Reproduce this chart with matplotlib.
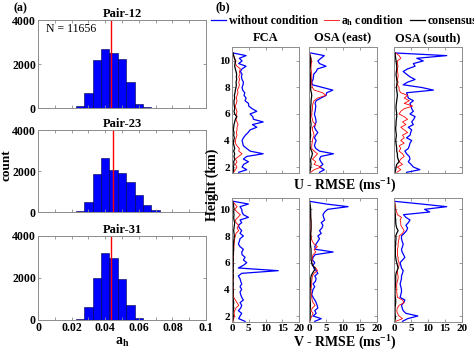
import numpy as np
import matplotlib
matplotlib.use("Agg")
import matplotlib.pyplot as plt

plt.rcParams['font.family'] = ['Liberation Serif', 'DejaVu Serif']
plt.rcParams['font.weight'] = 'bold'
plt.rcParams['mathtext.fontset'] = 'custom'
plt.rcParams['mathtext.rm'] = 'Liberation Serif:bold'
plt.rcParams['mathtext.bf'] = 'Liberation Serif:bold'
plt.rcParams['mathtext.it'] = 'Liberation Serif:bold'

# ---- (a) histograms of a_h ----
bin_centers = [0.020, 0.025, 0.030, 0.035, 0.040, 0.045, 0.050, 0.055, 0.060, 0.065, 0.070, 0.075]
pair12 = [10, 75, 680, 2160, 2670, 2490, 2250, 1160, 170, 45, 5, 0]
pair23 = [10, 50, 506, 1830, 2645, 2040, 1910, 1470, 816, 327, 80, 15]
pair31 = [15, 60, 620, 2010, 3180, 2940, 1940, 730, 90, 10, 0, 0]
hist_titles = ['Pair-12', 'Pair-23', 'Pair-31']
hist_counts = [pair12, pair23, pair31]
median_ah = [0.0437, 0.0449, 0.0435]

# ---- (b) RMSE profiles ----
heights = np.round(np.arange(1.6, 10.61, 0.2), 1)

fca_u_blue = [2.0, 4.4, 3.0, 3.5, 4.9, 3.4, 4.4, 9.3, 5.4, 4.4, 3.4, 3.2, 3.0, 3.4, 4.0, 4.8,
              5.4, 7.4, 6.1, 9.3, 6.4, 6.2, 5.4, 7.4, 6.0, 5.0, 4.9, 3.9, 4.2, 3.6, 3.8, 3.2,
              3.0, 3.3, 3.4, 3.0, 2.8, 3.0, 2.5, 3.0, 4.2, 2.0, 3.0, 2.2, 4.2, 0.3]
fca_u_red = [0.5, 1.0, 1.5, 1.0, 1.5, 1.0, 2.0, 3.0, 2.0, 2.2, 1.5, 1.0, 1.0, 1.2, 1.5, 1.3,
             1.5, 1.5, 1.8, 1.5, 1.2, 1.5, 1.3, 1.5, 1.2, 1.0, 1.3, 1.5, 1.3, 1.5, 1.8, 1.6,
             2.0, 2.2, 2.0, 2.3, 2.0, 2.4, 2.2, 2.5, 1.5, 1.0, 1.2, 0.8, 0.5, 0.3]
fca_u_black = [0.3, 0.5, 0.4, 0.6, 0.5, 0.8, 0.6, 0.8, 0.5, 0.8, 0.6, 0.4, 0.5, 0.7, 0.5, 0.6,
               0.4, 0.5, 0.6, 0.8, 1.0, 1.4, 0.8, 0.6, 0.8, 0.7, 0.6, 0.6, 0.8, 0.7, 0.9, 1.0,
               1.2, 1.3, 1.2, 1.4, 1.3, 1.4, 1.2, 1.0, 0.8, 0.9, 1.0, 0.7, 0.5, 0.3]

osae_u_blue = [3.1, 4.5, 3.1, 4.1, 3.5, 3.1, 3.5, 7.2, 3.1, 2.0, 1.6, 1.8, 2.1, 1.6, 2.0, 2.6,
               2.0, 1.6, 1.8, 2.1, 2.0, 1.8, 1.6, 1.8, 1.9, 2.0, 1.8, 2.1, 3.5, 5.0, 5.2, 7.0,
               4.0, 1.0, 0.8, 1.2, 1.3, 1.4, 2.1, 2.5, 5.0, 3.1, 2.6, 3.5, 4.5, 0.5]
osae_u_red = [0.5, 1.5, 3.6, 1.5, 2.0, 1.0, 1.8, 2.5, 1.5, 0.8, 0.8, 0.9, 1.0, 1.2, 1.5, 1.3,
              1.0, 1.0, 2.0, 1.2, 1.0, 0.8, 0.8, 0.9, 1.0, 1.0, 1.2, 1.5, 2.5, 5.0, 4.0, 1.5,
              1.0, 0.8, 0.8, 0.8, 0.8, 0.8, 0.7, 0.6, 0.6, 0.7, 0.8, 0.6, 0.4, 0.2]
osae_u_black = [0.2, 0.4, 0.5, 0.6, 0.5, 0.5, 0.8, 1.0, 0.8, 0.4, 0.3, 0.3, 0.3, 0.4, 0.5, 0.4,
                0.4, 0.5, 0.6, 0.5, 0.4, 0.4, 0.4, 0.5, 0.5, 0.5, 0.6, 0.6, 0.7, 0.8, 0.7, 0.5,
                0.5, 0.4, 0.4, 0.5, 0.4, 0.4, 0.3, 0.3, 0.4, 0.4, 0.5, 0.5, 0.3, 0.0]

osas_u_blue = [3.7, 7.6, 5.7, 5.0, 4.2, 4.7, 4.5, 3.7, 3.2, 4.2, 4.5, 4.7, 5.2, 3.7, 4.7, 4.9,
               5.2, 4.2, 5.7, 5.2, 5.8, 6.2, 4.7, 5.7, 5.2, 5.0, 4.7, 5.7, 4.2, 4.0, 3.7, 11.6,
               8.1, 2.7, 4.0, 6.2, 4.7, 3.7, 2.7, 4.0, 6.2, 5.7, 8.6, 6.7, 15.5, 0.3]
osas_u_red = [0.8, 2.0, 1.0, 2.5, 1.5, 2.0, 3.0, 2.5, 1.5, 2.0, 1.5, 3.0, 2.0, 3.0, 2.5, 4.0,
              3.0, 2.0, 3.5, 2.5, 4.0, 3.0, 1.5, 2.0, 3.0, 5.5, 3.0, 4.5, 3.0, 4.0, 2.0, 1.5,
              1.5, 1.0, 1.2, 1.0, 1.2, 1.2, 1.0, 1.0, 1.2, 1.0, 1.0, 2.0, 1.5, 0.5]
osas_u_black = [0.3, 0.5, 0.6, 0.8, 1.5, 1.2, 1.0, 1.0, 0.8, 0.8, 0.7, 0.6, 0.5, 0.6, 0.7, 0.6,
                0.5, 0.5, 0.6, 0.6, 0.7, 0.8, 0.8, 0.7, 0.6, 0.6, 0.7, 0.8, 0.9, 1.0, 0.9, 0.8,
                0.7, 0.8, 0.9, 0.8, 0.7, 0.6, 0.7, 0.8, 0.8, 0.7, 0.6, 0.5, 0.4, 0.3]

fca_v_blue = [3.9, 2.0, 2.4, 2.9, 1.9, 2.6, 2.9, 2.4, 3.4, 2.9, 2.6, 2.4, 2.9, 2.4, 2.9, 2.6,
              2.4, 1.9, 2.9, 13.8, 1.9, 3.4, 4.4, 3.4, 3.9, 3.0, 2.9, 3.4, 2.4, 1.9, 2.2, 2.4,
              3.4, 2.4, 2.9, 2.2, 1.9, 2.9, 2.4, 4.9, 3.4, 3.0, 2.9, 2.4, 4.9, 0.4]
fca_v_red = [0.3, 0.5, 0.8, 0.6, 0.8, 1.2, 2.0, 1.5, 1.0, 0.5, 0.4, 0.4, 0.4, 0.3, 0.3, 0.3,
             0.4, 0.4, 0.3, 0.3, 0.3, 0.4, 0.4, 0.4, 0.4, 0.5, 0.5, 0.5, 0.6, 0.6, 0.7, 0.8,
             1.0, 1.2, 2.0, 1.5, 2.0, 1.2, 1.0, 1.8, 2.5, 1.5, 0.8, 1.5, 0.8, 0.2]
fca_v_black = [0.2, 0.3, 0.4, 0.3, 0.4, 0.5, 0.4, 0.5, 0.4, 0.3, 0.3, 0.4, 0.3, 0.3, 0.4, 0.3,
               0.3, 0.4, 0.3, 0.4, 0.3, 0.4, 0.3, 0.4, 0.3, 0.4, 0.4, 0.5, 0.4, 0.5, 0.5, 0.6,
               0.7, 0.6, 0.5, 0.6, 0.7, 0.8, 0.6, 0.5, 0.6, 0.5, 0.6, 0.5, 0.4, 0.2]

osae_v_blue = [1.7, 3.6, 1.2, 2.1, 1.7, 2.6, 2.4, 2.1, 1.7, 1.2, 0.8, 1.0, 1.2, 1.7, 1.2, 1.9,
               2.1, 1.7, 2.6, 2.1, 1.4, 1.2, 1.7, 1.0, 1.2, 1.8, 7.1, 2.0, 1.7, 2.1, 2.6, 3.1,
               2.6, 3.6, 3.1, 3.8, 4.1, 3.6, 4.6, 4.3, 4.1, 4.6, 5.5, 11.5, 5.0, 0.2]
osae_v_red = [0.2, 0.5, 0.8, 1.2, 0.6, 1.0, 1.8, 1.2, 0.9, 0.8, 0.7, 0.6, 0.6, 0.7, 0.8, 0.8,
              0.9, 1.0, 1.5, 2.5, 2.0, 1.0, 0.8, 0.9, 1.0, 1.2, 2.0, 1.5, 2.5, 1.5, 1.0, 0.7,
              0.6, 0.5, 0.5, 0.6, 0.6, 0.6, 0.5, 0.5, 0.5, 0.4, 0.3, 0.3, 0.2, 0.1]
osae_v_black = [0.2, 0.3, 0.3, 0.4, 0.3, 0.4, 0.4, 0.4, 0.3, 0.3, 0.3, 0.3, 0.3, 0.4, 0.4, 0.5,
                0.5, 0.6, 1.0, 1.5, 1.8, 1.0, 0.8, 0.6, 0.6, 0.6, 0.6, 0.6, 0.5, 0.4, 0.4, 0.5,
                0.5, 0.5, 0.6, 0.6, 0.6, 0.6, 0.6, 0.5, 0.5, 0.5, 0.5, 0.4, 0.3, 0.2]

osas_v_blue = [2.5, 4.0, 7.0, 3.5, 2.7, 2.4, 2.2, 2.8, 3.2, 1.8, 2.0, 2.2, 2.2, 2.0, 1.8, 2.0,
               2.2, 2.2, 2.5, 2.7, 2.2, 2.0, 1.8, 2.5, 3.2, 2.8, 2.4, 2.2, 2.5, 2.7, 2.4, 2.2,
               2.2, 3.0, 3.7, 4.0, 3.5, 4.2, 4.7, 3.5, 2.8, 10.5, 9.0, 15.5, 8.0, 0.2]
osas_v_red = [0.5, 2.5, 1.5, 1.0, 0.8, 1.0, 1.5, 3.0, 2.5, 1.0, 0.9, 0.8, 0.8, 0.8, 0.8, 1.0,
              1.2, 1.2, 1.0, 1.0, 1.2, 1.5, 1.5, 1.2, 1.2, 1.0, 1.0, 1.0, 1.2, 1.2, 1.3, 1.5,
              1.5, 2.5, 3.0, 2.5, 2.0, 2.0, 1.8, 2.2, 1.0, 0.8, 0.5, 0.5, 0.3, 0.2]
osas_v_black = [0.2, 0.4, 0.4, 0.3, 0.3, 0.3, 0.4, 0.5, 0.5, 0.4, 0.3, 0.3, 0.3, 0.4, 0.4, 0.5,
                0.5, 0.5, 0.6, 0.9, 1.2, 1.0, 0.8, 0.6, 0.5, 0.4, 0.4, 0.4, 0.4, 0.5, 0.5, 0.6,
                0.5, 0.8, 1.2, 0.8, 0.6, 0.5, 0.5, 0.4, 0.4, 0.3, 0.3, 0.2, 0.2, 0.1]

profile_titles = ['FCA', 'OSA (east)', 'OSA (south)']
u_profiles = [(fca_u_blue, fca_u_red, fca_u_black),
              (osae_u_blue, osae_u_red, osae_u_black),
              (osas_u_blue, osas_u_red, osas_u_black)]
v_profiles = [(fca_v_blue, fca_v_red, fca_v_black),
              (osae_v_blue, osae_v_red, osae_v_black),
              (osas_v_blue, osas_v_red, osas_v_black)]

W, H = 474, 353
fig = plt.figure(figsize=(W / 100, H / 100), dpi=100)


def px_axes(left, top, right, bottom):
    return fig.add_axes([left / W, 1 - bottom / H, (right - left) / W, (bottom - top) / H])


def style(ax, size):
    for s in ax.spines.values():
        s.set_color('0.55')
        s.set_linewidth(0.7)
    ax.tick_params(direction='in', top=True, right=True, length=2.5, width=0.6,
                   color='0.55', labelsize=size, pad=1.5)
    ax.tick_params(which='minor', direction='in', top=True, right=True, length=2.5,
                   width=0.6, color='0.55')


hist_boxes = [(38, 20, 206, 108), (38, 130, 206, 212), (38, 236, 206, 320)]
for i in range(3):
    ax = px_axes(*hist_boxes[i])
    ax.bar(bin_centers, hist_counts[i], width=0.005, color='#0000ff',
           edgecolor='#000044', linewidth=0.4)
    ax.axvline(median_ah[i], color='#ff0000', linewidth=1.0)
    ax.set_xlim(0, 0.1)
    ax.set_ylim(0, 4000)
    ax.set_yticks([0, 2000, 4000])
    ax.set_xticks([0, 0.02, 0.04, 0.06, 0.08, 0.1])
    ax.set_xticks(np.arange(0.01, 0.1, 0.02), minor=True)
    ax.set_xticklabels(['0', '0.02', '0.04', '0.06', '0.08', '0.1'])
    style(ax, 8.5)
    if i < 2:
        ax.tick_params(labelbottom=False)
    ax.set_title(hist_titles[i], fontsize=9, fontweight='bold', pad=2)
    if i == 0:
        ax.text(0.005, 3450, 'N = 11656', fontsize=8.5, fontweight='normal')

fig.text(7 / W, 1 - 165 / H, 'count', rotation=90, ha='center', va='center',
         fontsize=9.5, fontweight='bold')
fig.text(122 / W, 1 - 342 / H, r'a$_{\mathbf{h}}$', ha='center', va='center',
         fontsize=10, fontweight='bold')
fig.text(14 / W, 1 - 8 / H, '(a)', ha='left', va='center', fontsize=8.5, fontweight='bold')

cols = [(232, 299), (309, 377), (394, 462)]
rows = [(47, 173), (198, 322)]
ylims = [(1.55, 11.05), (1.55, 10.85)]
lines = None
for r, profs in enumerate([u_profiles, v_profiles]):
    for c in range(3):
        ax = px_axes(cols[c][0], rows[r][0], cols[c][1], rows[r][1])
        blue, red, black = profs[c]
        lb, = ax.plot(blue, heights, color='#0000ff', linewidth=0.9)
        lr, = ax.plot(red, heights, color='#ff0000', linewidth=0.6)
        lk, = ax.plot(black, heights, color='black', linewidth=0.9)
        lines = (lb, lr, lk)
        ax.set_xlim(0, 20)
        ax.set_ylim(*ylims[r])
        ax.set_xticks([0, 5, 10, 15, 20])
        ax.set_yticks([2, 4, 6, 8, 10])
        style(ax, 8)
        if c > 0:
            ax.tick_params(labelleft=False)
        if r == 0:
            ax.tick_params(labelbottom=False)
            ax.set_title(profile_titles[c], fontsize=9, fontweight='bold', pad=4)

fig.text(345 / W, 1 - 186 / H, r'U - RMSE (ms$^{\mathbf{-1}}$)', ha='center', va='center',
         fontsize=10, fontweight='bold')
fig.text(345 / W, 1 - 343 / H, r'V - RMSE (ms$^{\mathbf{-1}}$)', ha='center', va='center',
         fontsize=10, fontweight='bold')
fig.text(212 / W, 1 - 185 / H, 'Height (km)', rotation=90, ha='center', va='center',
         fontsize=10, fontweight='bold')
fig.text(216 / W, 1 - 7 / H, '(b)', ha='left', va='center', fontsize=8.5, fontweight='bold')

fig.legend(lines, ['without condition', r'a$_{\mathbf{h}}$ condition', 'consensus'],
           loc='upper left', bbox_to_anchor=(211 / W, 1 - 13 / H), ncol=3, frameon=False,
           fontsize=8.5, handlelength=1.3, handletextpad=0.2, columnspacing=0.5,
           borderaxespad=0, borderpad=0)

fig.savefig('out.png', dpi=100)
